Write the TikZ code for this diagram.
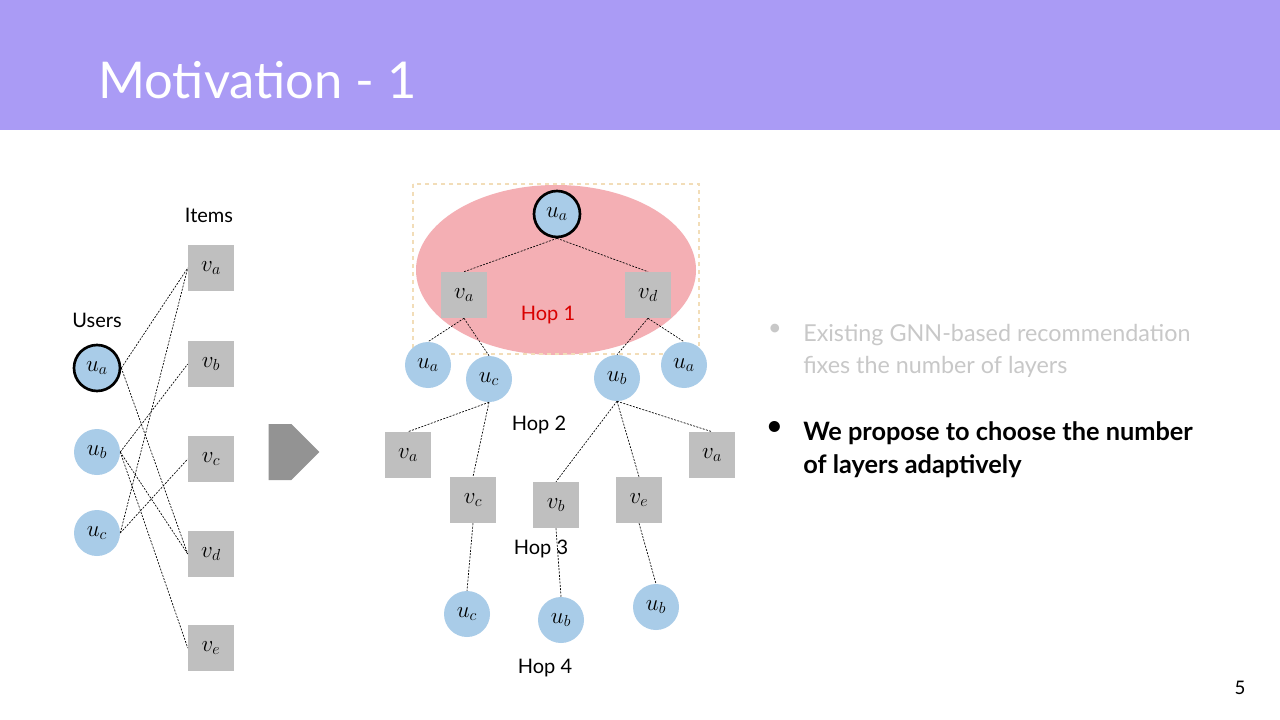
\documentclass[tikz,border=0pt]{standalone}
\usepackage{fontspec}
\setmainfont{Lato}
\usetikzlibrary{shapes.arrows}
\definecolor{band}{HTML}{AA9BF5}
\definecolor{ublue}{HTML}{A9CCE8}
\definecolor{vgray}{HTML}{BFBFBF}
\definecolor{hoppink}{HTML}{F4AFB4}
\definecolor{beige}{HTML}{F2DDB8}
\definecolor{lightgray}{HTML}{C8C8C8}
\tikzset{
 unode/.style={circle,fill=ublue,minimum size=34.5pt,inner sep=0pt,font=\fontsize{18}{18}\selectfont},
 uroot/.style={unode,draw=black,line width=2pt},
 vnode/.style={rectangle,fill=vgray,minimum size=34.5pt,inner sep=0pt,font=\fontsize{18}{18}\selectfont},
 edge/.style={densely dashed,line width=0.5pt,dash pattern=on 1.5pt off 1pt},
 lab/.style={font=\fontsize{15}{15}\selectfont,inner sep=0pt},
}
\begin{document}
\begin{tikzpicture}[x=0.75pt,y=-0.75pt]
\useasboundingbox (0,0) rectangle (1280,720);
\fill[white] (0,0) rectangle (1280,720);
\fill[band] (0,0) rectangle (1280,130);
\node[anchor=west,text=white,font=\fontsize{38}{38}\selectfont,inner sep=0pt] (title) at (98,80) {Motivation - 1};
% left bipartite
\node[lab] (users) at (97,320) {Users};
\node[lab] (items) at (209,215) {Items};
\node[uroot] (Lua) at (97,368) {$u_a$};
\node[unode] (Lub) at (97,452) {$u_b$};
\node[unode] (Luc) at (97,533) {$u_c$};
\node[vnode] (Lva) at (211,268) {$v_a$};
\node[vnode] (Lvb) at (211,364) {$v_b$};
\node[vnode] (Lvc) at (211,459) {$v_c$};
\node[vnode] (Lvd) at (211,554) {$v_d$};
\node[vnode] (Lve) at (211,648) {$v_e$};
\draw[edge] (Lua.east) -- (Lva.west);
\draw[edge] (Lua.east) -- (Lvd.west);
\draw[edge] (Lub.east) -- (Lvb.west);
\draw[edge] (Lub.east) -- (Lvd.west);
\draw[edge] (Lub.east) -- (Lve.west);
\draw[edge] (Luc.east) -- (Lva.west);
\draw[edge] (Luc.east) -- (Lvc.west);
% arrow
\node[single arrow,fill=gray!85,minimum width=42pt,single arrow head extend=0pt,minimum height=38pt,inner sep=0pt] (arr) at (280,452) {};
% tree
\fill[hoppink] (556,270) ellipse [x radius=140, y radius=85];
\draw[beige,line width=2pt,dashed] (413,184) rectangle (699,354);
\node[font=\fontsize{15}{15}\selectfont\color{red!85!black},inner sep=0pt] (hop1) at (548,315) {Hop 1};
\node[uroot] (ra) at (557,214) {$u_a$};
\node[vnode] (t1a) at (464,295) {$v_a$};
\node[vnode] (t1d) at (648,295) {$v_d$};
\node[unode] (t2a) at (428,365) {$u_a$};
\node[unode] (t2c) at (489,379) {$u_c$};
\node[unode] (t2b) at (617,378) {$u_b$};
\node[unode] (t2a2) at (684,365) {$u_a$};
\node[vnode] (t3a) at (408,455) {$v_a$};
\node[vnode] (t3c) at (473,500) {$v_c$};
\node[vnode] (t3b) at (556,505) {$v_b$};
\node[vnode] (t3e) at (639,500) {$v_e$};
\node[vnode] (t3a2) at (712,455) {$v_a$};
\node[unode] (t4c) at (467,614) {$u_c$};
\node[unode] (t4b) at (561,620) {$u_b$};
\node[unode] (t4b2) at (656,607) {$u_b$};
\node[lab] (hop2) at (539,425) {Hop 2};
\node[lab] (hop3) at (541,549) {Hop 3};
\node[lab] (hop4) at (545,668) {Hop 4};
\draw[edge] (ra.south) -- (t1a.north);
\draw[edge] (ra.south) -- (t1d.north);
\draw[edge] (t1a.south) -- (t2a.north);
\draw[edge] (t1a.south) -- (t2c.north);
\draw[edge] (t1d.south) -- (t2b.north);
\draw[edge] (t1d.south) -- (t2a2.north);
\draw[edge] (t2c.south) -- (t3a.north);
\draw[edge] (t2c.south) -- (t3c.north);
\draw[edge] (t2b.south) -- (t3b.north);
\draw[edge] (t2b.south) -- (t3e.north);
\draw[edge] (t2b.south) -- (t3a2.north);
\draw[edge] (t3c.south) -- (t4c.north);
\draw[edge] (t3b.south) -- (t4b.north);
\draw[edge] (t3e.south) -- (t4b2.north);
% bullets
\node[anchor=north west,align=left,text=lightgray,font=\fontsize{17.5}{24}\selectfont,inner sep=0pt] (b1) at (803,324) {Existing GNN-based recommendation\\fixes the number of layers};
\node[anchor=north east,text=lightgray,font=\fontsize{17.5}{24}\selectfont,inner sep=0pt] (d1) at (782,324) {•};
\node[anchor=north west,align=left,font=\fontsize{19}{25}\selectfont\bfseries,inner sep=0pt] (b2) at (803,421) {We propose to choose the number\\of layers adaptively};
\node[anchor=north east,font=\fontsize{19}{25}\selectfont\bfseries,inner sep=0pt] (d2) at (782,421) {•};
\node[font=\fontsize{14}{14}\selectfont,inner sep=0pt] (pg) at (1240,688) {5};
\end{tikzpicture}
\end{document}
